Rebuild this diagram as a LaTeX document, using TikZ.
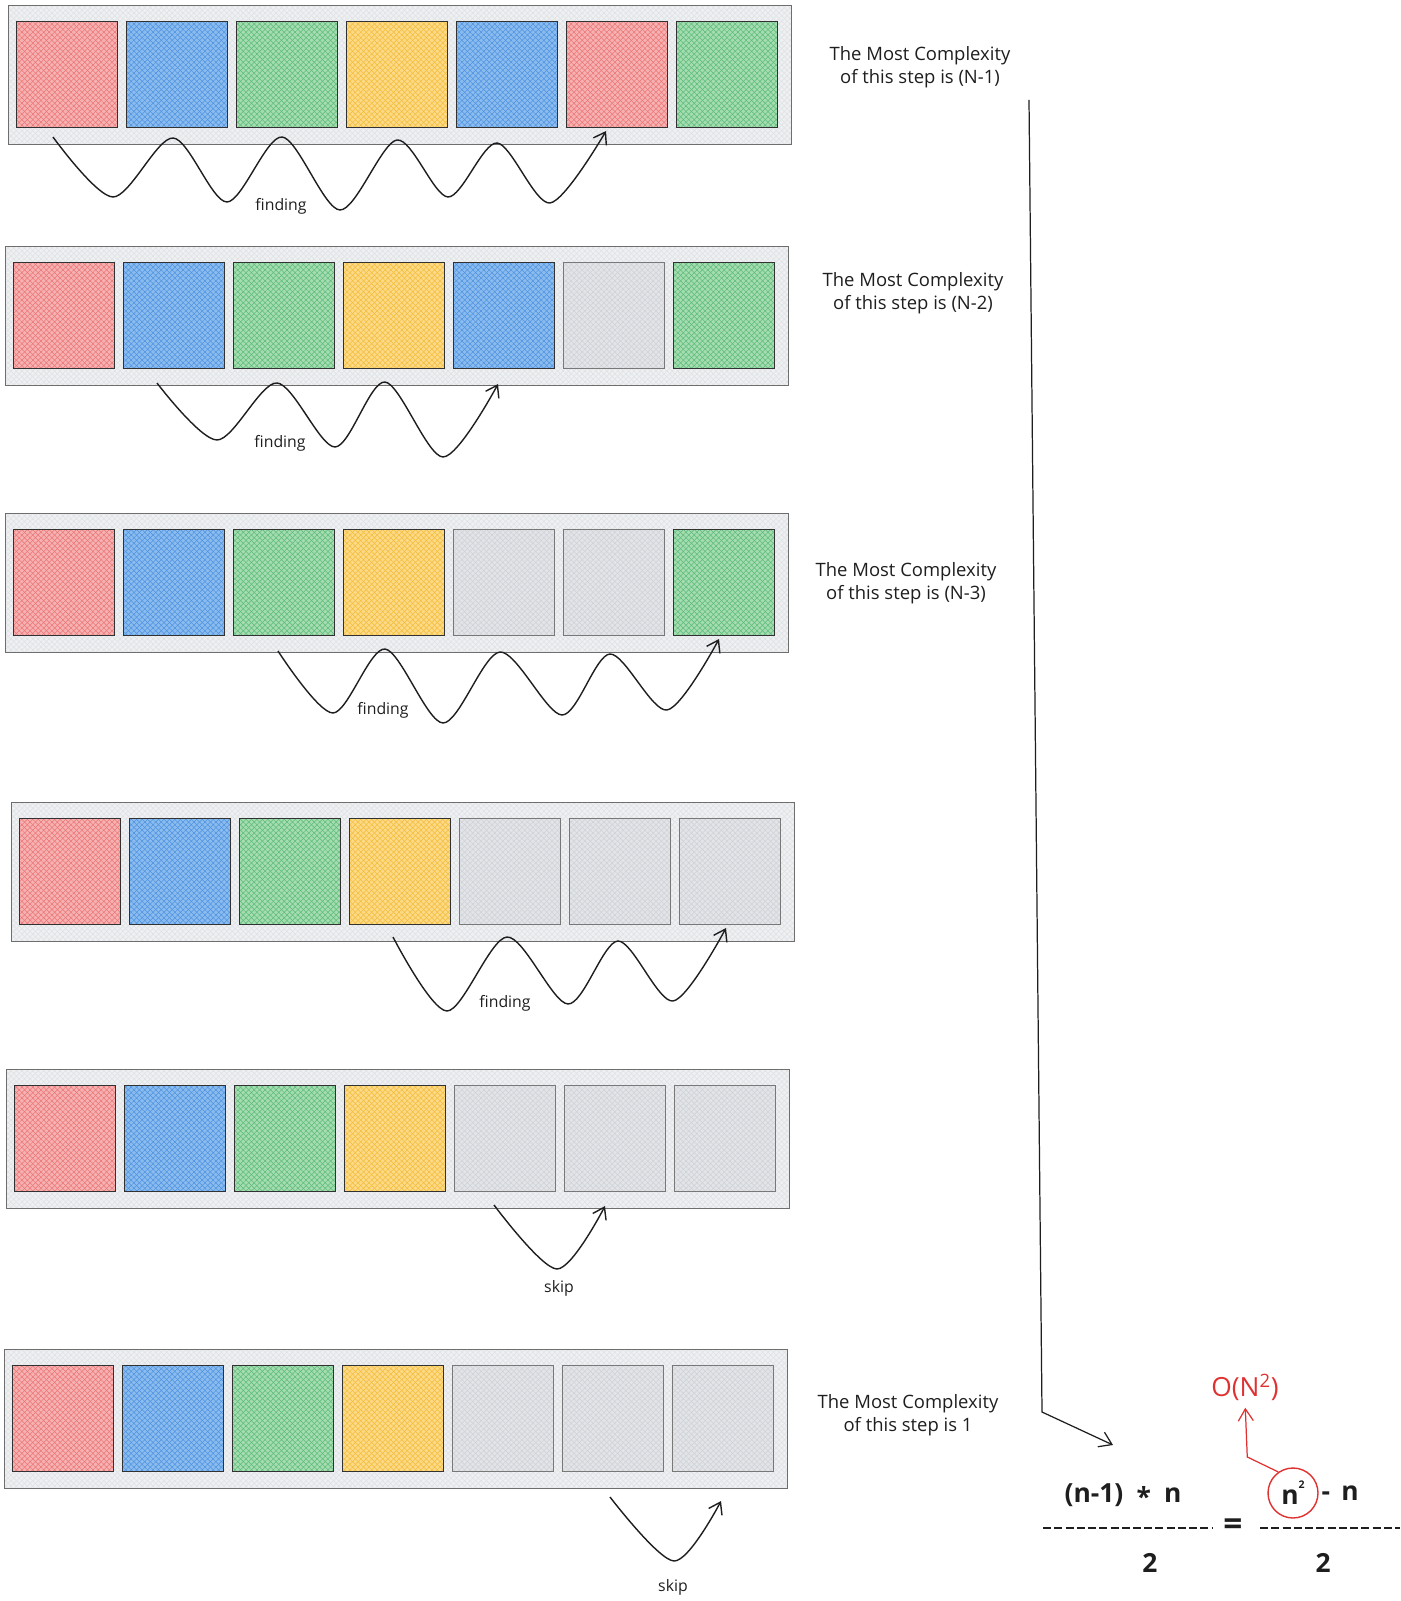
\documentclass[tikz,border=0pt]{standalone}
\usepackage{fontspec}
\setmainfont{Open Sans}
\usetikzlibrary{
  positioning,
  calc,
  arrows.meta,
  patterns.meta
}
\definecolor{redfill}{RGB}{246, 178, 178}
\definecolor{redline}{RGB}{236, 116, 116}
\definecolor{bluefill}{RGB}{140, 188, 238}
\definecolor{blueline}{RGB}{76, 146, 226}
\definecolor{greenfill}{RGB}{166, 220, 178}
\definecolor{greenline}{RGB}{90, 188, 118}
\definecolor{yellowfill}{RGB}{252, 218, 136}
\definecolor{yellowline}{RGB}{244, 188, 56}
\definecolor{grayfill}{RGB}{226, 228, 232}
\definecolor{grayline}{RGB}{206, 209, 214}
\definecolor{trayfill}{RGB}{238, 240, 242}
\definecolor{trayline}{RGB}{222, 225, 229}
\definecolor{trayedge}{RGB}{110, 110, 110}
\definecolor{celledge}{RGB}{50, 50, 50}
\definecolor{emptyedge}{RGB}{120, 120, 120}
\definecolor{inkcolor}{RGB}{30, 30, 30}
\definecolor{notecolor}{RGB}{224, 49, 49}
\tikzset{
hatched/.style 2 args={
  preaction={fill=#1},
  preaction={pattern={Lines[angle=45,distance=2.2pt,line width=0.3pt]}, pattern color=#2},
  preaction={pattern={Lines[angle=-45,distance=2.2pt,line width=0.3pt]}, pattern color=#2}
},
tray/.style={
  draw=trayedge,
  line width=0.7pt,
  hatched={trayfill}{trayline},
  minimum width=15.66cm,
  minimum height=2.78cm,
  anchor=north west,
  inner sep=0pt
},
cell/.style={
  draw=celledge,
  line width=0.6pt,
  minimum width=2.02cm,
  minimum height=2.12cm,
  anchor=north west,
  inner sep=0pt
},
redcell/.style={cell, hatched={redfill}{redline}},
bluecell/.style={cell, hatched={bluefill}{blueline}},
greencell/.style={cell, hatched={greenfill}{greenline}},
yellowcell/.style={cell, hatched={yellowfill}{yellowline}},
emptycell/.style={cell, draw=emptyedge, hatched={grayfill}{grayline}}
}

\begin{document}
\begin{tikzpicture}[
    x=0.02cm, y=-0.02cm,
    % Estilos das setas
    wave/.style={-{Straight Barb[length=2.2mm, width=3mm]}, line width=0.8pt, inkcolor},
    sumarrow/.style={-{Straight Barb[length=2.4mm, width=3.2mm]}, line width=0.7pt, inkcolor},
    notearrow/.style={-{Straight Barb[length=2.4mm, width=3mm]}, line width=0.7pt, notecolor},
    fracline/.style={line width=1.3pt, inkcolor, dash pattern=on 0.16cm off 0.065cm},
    % Estilos das labels
    steplabel/.style={font=\fontsize{9}{10}\selectfont, text=inkcolor},
    costlabel/.style={font=\fontsize{10.5}{12.8}\selectfont, text=inkcolor, align=center},
    formula/.style={font=\fontsize{15}{18}\selectfont\bfseries, text=inkcolor, inner sep=0pt},
]
\useasboundingbox (0,0) rectangle (1400,1601);

% ============================================================================
% LINHAS
% ============================================================================
\node[tray] (row1) at (8,5) {};
\foreach \c [count=\i] in {redcell,bluecell,greencell,yellowcell,bluecell,redcell,greencell}
  \node[\c] (r1c\i) at ($(row1.north west)+({110*\i-102},16)$) {};

\node[tray] (row2) at (5,246) {};
\foreach \c [count=\i] in {redcell,bluecell,greencell,yellowcell,bluecell,emptycell,greencell}
  \node[\c] (r2c\i) at ($(row2.north west)+({110*\i-102},16)$) {};

\node[tray] (row3) at (5,513) {};
\foreach \c [count=\i] in {redcell,bluecell,greencell,yellowcell,emptycell,emptycell,greencell}
  \node[\c] (r3c\i) at ($(row3.north west)+({110*\i-102},16)$) {};

\node[tray] (row4) at (11,802) {};
\foreach \c [count=\i] in {redcell,bluecell,greencell,yellowcell,emptycell,emptycell,emptycell}
  \node[\c] (r4c\i) at ($(row4.north west)+({110*\i-102},16)$) {};

\node[tray] (row5) at (6,1069) {};
\foreach \c [count=\i] in {redcell,bluecell,greencell,yellowcell,emptycell,emptycell,emptycell}
  \node[\c] (r5c\i) at ($(row5.north west)+({110*\i-102},16)$) {};

\node[tray] (row6) at (4,1349) {};
\foreach \c [count=\i] in {redcell,bluecell,greencell,yellowcell,emptycell,emptycell,emptycell}
  \node[\c] (r6c\i) at ($(row6.north west)+({110*\i-102},16)$) {};

% ============================================================================
% BUSCAS
% ============================================================================
\coordinate (w1end) at ($(r1c6.south)+(-11,3)$);
\draw[wave] plot[smooth] coordinates {(53,137) (113,197) (173,138) (227,202) (282,137) (340,210) (397,140) (448,197) (497,143) (550,203) (w1end)};
\node[steplabel] (find1) at (281,206) {finding};

\coordinate (w2end) at ($(r2c5.south)+(-6,15)$);
\draw[wave] plot[smooth] coordinates {(157,383) (217,440) (277,383) (335,447) (385,382) (443,457) (w2end)};
\node[steplabel] (find2) at (280,443) {finding};

\coordinate (w3end) at ($(r3c7.south)+(-5,3)$);
\draw[wave] plot[smooth] coordinates {(278,651) (333,713) (385,649) (443,723) (500,652) (562,715) (610,654) (667,710) (w3end)};
\node[steplabel] (find3) at (383,710) {finding};

\coordinate (w4end) at ($(r4c7.south)+(-4,3)$);
\draw[wave] plot[smooth] coordinates {(393,937) (447,1011) (507,937) (568,1004) (618,941) (673,1001) (w4end)};
\node[steplabel] (find4) at (505,1003) {finding};

\coordinate (w5end) at ($(r5c6.south)+(-10,14)$);
\draw[wave] plot[smooth] coordinates {(494,1205) (557,1269) (w5end)};
\node[steplabel] (skip5) at (559,1288) {skip};

\coordinate (w6end) at ($(r6c7.south)+(-2,29)$);
\draw[wave] plot[smooth] coordinates {(610,1497) (674,1561) (w6end)};
\node[steplabel] (skip6) at (673,1587) {skip};

% ============================================================================
% COMPLEXIDADE
% ============================================================================
\node[costlabel] (cost1) at (920,67) {The Most Complexity\\of this step is (N-1)};
\node[costlabel] (cost2) at (913,293) {The Most Complexity\\of this step is (N-2)};
\node[costlabel] (cost3) at (906,583) {The Most Complexity\\of this step is (N-3)};
\node[costlabel] (cost6) at (908,1415) {The Most Complexity\\of this step is 1};

% ============================================================================
% SOMA
% ============================================================================
\node[formula] (numer) at (1123,1495) {(n-1)\enspace\raisebox{-0.3ex}{*}\enspace n};
\node[formula] (denom1) at (1150,1563) {2};
\node[formula, font=\fontsize{19}{20}\selectfont\bfseries] (equals) at (1233,1527) {=};
\node[formula, circle, draw=notecolor, line width=0.8pt, minimum size=1cm] (nsq) at (1293,1493) {n\raisebox{1.1ex}{\fontsize{6}{6}\selectfont 2}};
\node[formula, right=0.05cm of nsq] (minusn) {- \,n};
\node[formula] (denom2) at (1323,1563) {2};
\node[formula, font=\fontsize{15}{18}\selectfont, text=notecolor] (bigo) at (1245,1387) {O(N\textsuperscript{2})};

\coordinate (frac1l) at (1043,1528);
\coordinate (frac1r) at (1212,1528);
\coordinate (frac2l) at (1260,1528);
\coordinate (frac2r) at (1400,1528);
\draw[fracline] (frac1l) -- (frac1r);
\draw[fracline] (frac2l) -- (frac2r);

\coordinate (railtop) at (1029,100);
\coordinate (railbend) at (1042,1412);
\coordinate (railend) at (1113,1445);
\draw[sumarrow] (railtop) -- (railbend) -- (railend);

\draw[notearrow, shorten >=4pt] (nsq.125) -- ++(-31,-15) -- (bigo.south);

\end{tikzpicture}
\end{document}
